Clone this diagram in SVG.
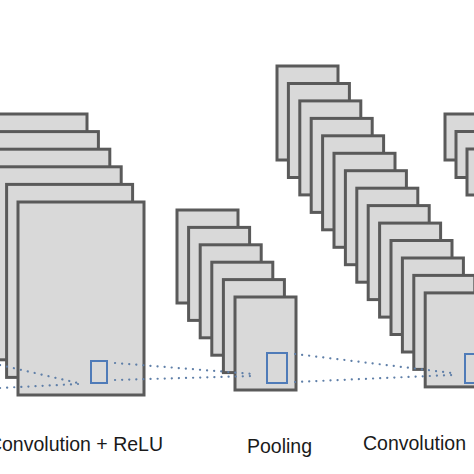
<svg xmlns="http://www.w3.org/2000/svg" width="474" height="474" viewBox="0 0 474 474">
<style>
.map{fill:#d9d9d9;stroke:#5a5a5a;stroke-width:3}
.sel{fill:none;stroke:#4f7bb8;stroke-width:2}
.dot{fill:none;stroke:#5f7fa8;stroke-width:2.2;stroke-dasharray:0.1 7;stroke-linecap:round}
.lbl{font-family:"Liberation Sans",Arial,sans-serif;font-size:19.5px;fill:#1a1a1a}
</style>
<rect width="474" height="474" fill="#ffffff"/>
<g id="conv1">
<rect class="map" x="-39" y="114" width="126" height="193"/>
<rect class="map" x="-27.6" y="131.6" width="126" height="193"/>
<rect class="map" x="-16.2" y="149.2" width="126" height="193"/>
<rect class="map" x="-4.8" y="166.8" width="126" height="193"/>
<rect class="map" x="6.6" y="184.4" width="126" height="193"/>
<rect class="map" x="18" y="202" width="126" height="193"/>
<rect class="sel" x="91" y="361" width="16" height="22"/>
</g>
<g id="pool">
<rect class="map" x="177" y="210" width="61" height="93"/>
<rect class="map" x="188.6" y="227.4" width="61" height="93"/>
<rect class="map" x="200.2" y="244.8" width="61" height="93"/>
<rect class="map" x="211.8" y="262.2" width="61" height="93"/>
<rect class="map" x="223.4" y="279.6" width="61" height="93"/>
<rect class="map" x="235" y="297" width="61" height="93"/>
<rect class="sel" x="267" y="353" width="20" height="30"/>
</g>
<g id="conv2">
<rect class="map" x="277" y="66" width="61" height="94"/>
<rect class="map" x="288.4" y="83.5" width="61" height="94"/>
<rect class="map" x="299.8" y="100.9" width="61" height="94"/>
<rect class="map" x="311.2" y="118.4" width="61" height="94"/>
<rect class="map" x="322.6" y="135.8" width="61" height="94"/>
<rect class="map" x="334" y="153.3" width="61" height="94"/>
<rect class="map" x="345.4" y="170.7" width="61" height="94"/>
<rect class="map" x="356.8" y="188.2" width="61" height="94"/>
<rect class="map" x="368.2" y="205.6" width="61" height="94"/>
<rect class="map" x="379.6" y="223.1" width="61" height="94"/>
<rect class="map" x="391" y="240.5" width="61" height="94"/>
<rect class="map" x="402.4" y="258" width="61" height="94"/>
<rect class="map" x="413.8" y="275.4" width="61" height="94"/>
<rect class="map" x="425.2" y="292.9" width="61" height="94"/>
<rect class="sel" x="465" y="354" width="20" height="29"/>
</g>
<g id="next">
<rect class="map" x="445" y="114" width="61" height="46"/>
<rect class="map" x="456" y="131.5" width="61" height="46"/>
<rect class="map" x="467" y="149" width="61" height="46"/>
</g>
<g id="connectors">
<line class="dot" x1="0" y1="365" x2="78" y2="383"/>
<line class="dot" x1="0" y1="388" x2="78" y2="384"/>
<line class="dot" x1="115" y1="363" x2="253" y2="374"/>
<line class="dot" x1="115" y1="380" x2="253" y2="376"/>
<line class="dot" x1="295" y1="354" x2="452" y2="373"/>
<line class="dot" x1="295" y1="382" x2="452" y2="375"/>
</g>
<g id="labels">
<text class="lbl" x="163" y="451" text-anchor="end">Convolution + ReLU</text>
<text class="lbl" x="247" y="453">Pooling</text>
<text class="lbl" x="363" y="450">Convolution</text>
</g>
</svg>
